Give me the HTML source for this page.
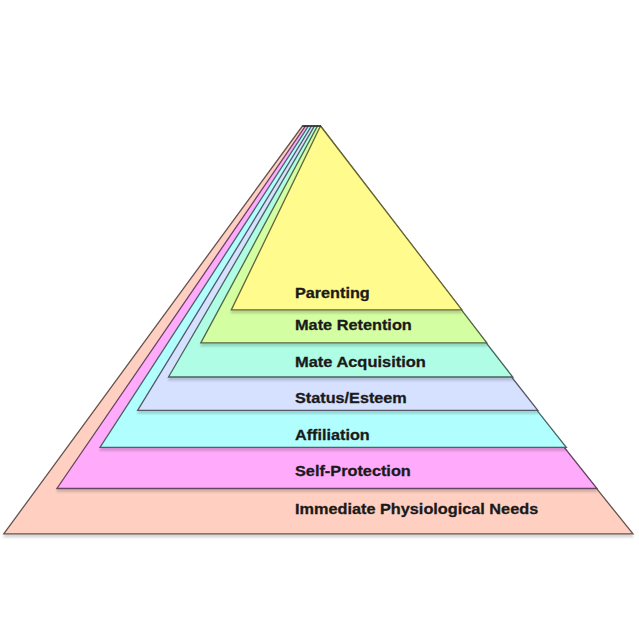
<!DOCTYPE html>
<html><head><meta charset="utf-8">
<style>
html,body{margin:0;padding:0;background:#fff;width:639px;height:640px;overflow:hidden}
svg{position:absolute;left:0;top:0}
text{font-family:"Liberation Sans",sans-serif;font-weight:bold;font-size:15.4px;fill:#1a1a1a;stroke:#1a1a1a;stroke-width:0.3px}
</style></head><body>
<svg width="639" height="640" viewBox="0 0 639 640" xmlns="http://www.w3.org/2000/svg">
<defs>
<filter id="sh" x="-10%" y="-10%" width="120%" height="130%">
<feGaussianBlur in="SourceAlpha" stdDeviation="1.2"/>
<feOffset dy="2.5" result="b"/>
<feComponentTransfer><feFuncA type="linear" slope="0.16"/></feComponentTransfer>
<feMerge><feMergeNode/><feMergeNode in="SourceGraphic"/></feMerge>
</filter>
</defs>
<g stroke="#000" stroke-width="1.3" stroke-linejoin="miter" stroke-miterlimit="3">
<polygon filter="url(#sh)" points="302.5,126.0 305.5,126.0 633,533.9 3.75,533.9" fill="#ffd0c2" stroke="#66534d"/>
<polygon filter="url(#sh)" points="305.5,126.0 308.5,126.0 597,488.5 56.9,488.5" fill="#ffaafa" stroke="#664464"/>
<polygon filter="url(#sh)" points="308.5,126.0 311.5,126.0 566.3,447.3 100,447.3" fill="#b0fffe" stroke="#466665"/>
<polygon filter="url(#sh)" points="311.5,126.0 314.5,126.0 537.8,410.4 137.6,410.4" fill="#d6e0ff" stroke="#555966"/>
<polygon filter="url(#sh)" points="314.5,126.0 317.5,126.0 512.8,377.0 168.5,377.0" fill="#b0fde6" stroke="#46655c"/>
<polygon filter="url(#sh)" points="317.5,126.0 320.5,126.0 486.8,342.9 200.8,342.9" fill="#d4fea2" stroke="#546540"/>
<polygon filter="url(#sh)" points="320.5,126.0 461.9,309.9 231.3,309.9" fill="#fffb8c" stroke="#666438"/>
</g>
<line x1="302.3" y1="126" x2="321" y2="126" stroke="#000" stroke-opacity="0.6" stroke-width="1.4"/>
<g>
<text x="295" y="297.8" textLength="74.7" lengthAdjust="spacingAndGlyphs">Parenting</text>
<text x="295" y="329.6" textLength="116.8" lengthAdjust="spacingAndGlyphs">Mate Retention</text>
<text x="295" y="367" textLength="130.8" lengthAdjust="spacingAndGlyphs">Mate Acquisition</text>
<text x="295" y="402.8" textLength="111.8" lengthAdjust="spacingAndGlyphs">Status/Esteem</text>
<text x="295" y="439.8" textLength="74.7" lengthAdjust="spacingAndGlyphs">Affiliation</text>
<text x="295" y="476.4" textLength="115.8" lengthAdjust="spacingAndGlyphs">Self-Protection</text>
<text x="295" y="513.6" textLength="243.2" lengthAdjust="spacingAndGlyphs">Immediate Physiological Needs</text>
</g>
</svg>
</body></html>
